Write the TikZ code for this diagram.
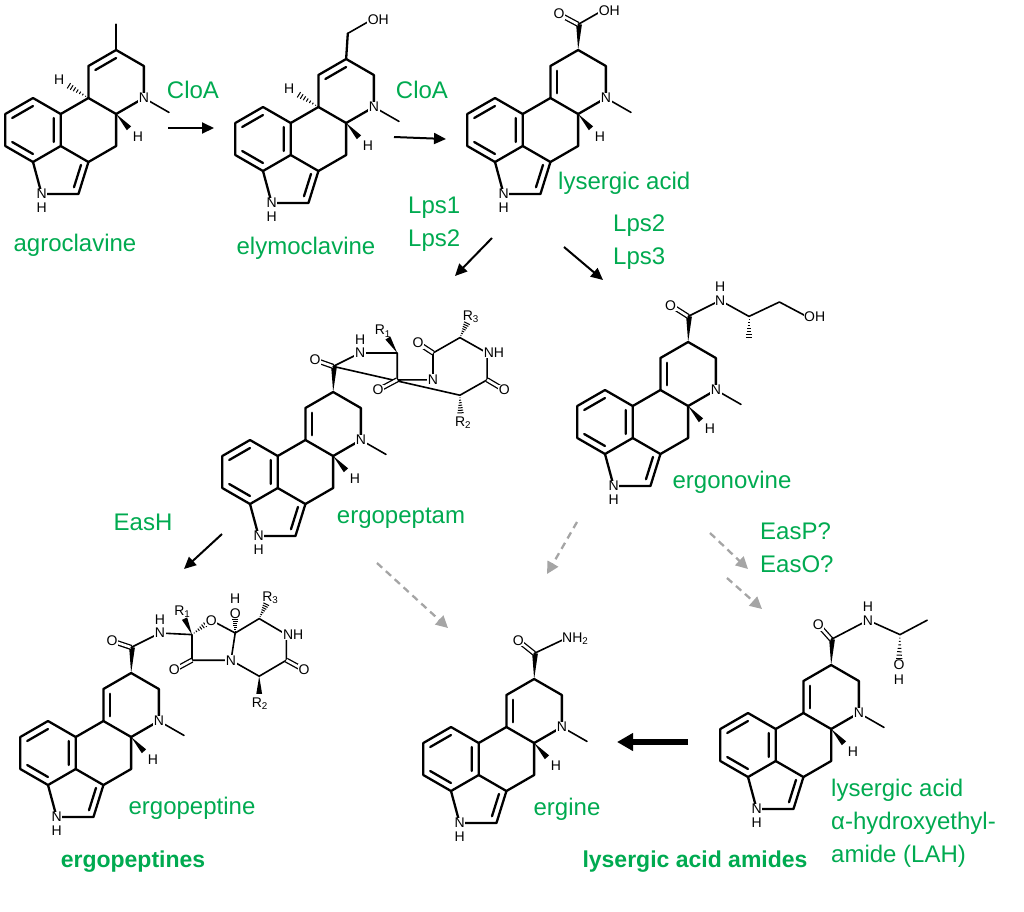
\documentclass[tikz,border=0pt]{standalone}
\usepackage{fontspec}
\setmainfont{Liberation Sans}
\usetikzlibrary{arrows.meta}
\definecolor{lab}{RGB}{0,170,80}
\definecolor{dgray}{RGB}{165,165,165}
\tikzset{
 bond/.style={line width=2.3pt, line join=round, line cap=round},
 thinb/.style={line width=1.6pt, line cap=round, line join=round},
 atom/.style={font=\fontsize{14}{14}\selectfont, fill=white, inner sep=0.6pt},
 atomn/.style={font=\fontsize{14}{14}\selectfont, inner sep=0.6pt},
 lbl/.style={font=\fontsize{24}{33}\selectfont, text=lab, inner sep=0pt},
 blbl/.style={font=\fontsize{23}{28}\selectfont\bfseries, text=lab, inner sep=0pt},
 rx/.style={-{Triangle[length=12pt,width=11pt]}, line width=2pt},
 gx/.style={-{Triangle[length=12pt,width=12pt]}, line width=2.3pt, dgray, dash pattern=on 7pt off 5pt},
 dbl/.style={double=white, double distance=2.6pt, line width=1.3pt},
}
\newcommand{\hashw}[3]{\begin{scope}[shift={(#1)},rotate=#2]\foreach \t in {1,...,7}{\draw[line width=1pt] ({\t*#3/7},{-\t*0.014}) -- ({\t*#3/7},{\t*0.014});}\end{scope}}
\newcommand{\wedgew}[3]{\begin{scope}[shift={(#1)},rotate=#2]\fill (0,0) -- (#3,0.09) -- (#3,-0.09) -- cycle;\end{scope}}
\newcommand{\skel}{%
 \draw[bond] (0,1)--(.866,.5)--(.866,-.5)--(0,-1)--(-.866,-.5)--(-.866,.5)--cycle;
 \draw[bond] (-.65,.375)--(0,.75) (.65,.375)--(.65,-.375) (-.65,-.375)--(0,-.75);
 \draw[bond] (.866,.5)--(1.732,1)--(2.598,.5)--(2.598,-.5)--(1.732,-1)--(.866,-.5);
 \draw[bond] (0,-1)--(0.27,-2)--(1.42,-2)--(1.732,-1) (1.28,-1.79)--(1.50,-1.09);
 \draw[bond] (1.732,1)--(1.732,2)--(2.598,2.5)--(3.464,2)--(3.464,1)--(2.598,.5);
 \draw[thinb] (3.464,1)--(4.25,.55);
 \wedgew{2.598,.5}{-48}{.6}
 \node[atom] at (3.464,1) {N};
 \node[atom] at (0.27,-2) {N};
 \node[atomn] at (0.27,-2.42) {H};
 \node[atomn] at (3.28,-0.22) {H};
}
\newcommand{\dbeightnine}{\draw[bond] (1.948,1.875)--(2.598,2.25);}
\newcommand{\dbnineten}{\draw[bond] (1.93,1.15)--(1.93,1.85);}
\newcommand{\hten}{\hashw{1.732,1}{148}{.72}\node[atomn] at (0.82,1.58){H};}
\newcommand{\amideC}{\wedgew{2.598,2.5}{88}{0.8}}
\begin{document}
\begin{tikzpicture}[x=1pt,y=-1pt]
\useasboundingbox (0,0) rectangle (1024,911);
% agroclavine
\begin{scope}[shift={(33,130)},x=32pt,y=32pt]
 \skel \dbeightnine \hten
 \draw[bond] (2.598,2.5)--(2.598,3.3);
\end{scope}
% elymoclavine
\begin{scope}[shift={(263,139)},x=32pt,y=32pt]
 \skel \dbeightnine \hten
 \draw[bond] (2.598,2.5)--(2.65,3.3);
 \draw[thinb] (2.65,3.3)--(3.35,3.7);
 \node[atom,anchor=west] at (3.25,3.72) {OH};
\end{scope}
% lysergic acid
\begin{scope}[shift={(495,130)},x=32pt,y=32pt]
 \skel \dbnineten \amideC
 \draw[dbl] (2.6,3.3)--(2.0,3.62); \node[atom] at (2.0,3.62) {O};
 \draw[thinb] (2.6,3.3)--(3.3,3.7);
 \node[atom,anchor=west] at (3.22,3.72) {OH};
\end{scope}
% ergonovine
\begin{scope}[shift={(605,422)},x=32pt,y=32pt]
 \skel \dbnineten \amideC
 \draw[dbl] (2.6,3.3)--(2.05,3.65); \node[atom] at (2.05,3.65) {O};
 \draw[thinb] (2.6,3.3)--(3.6,3.8)--(4.5,3.3)--(5.45,3.75)--(6.3,3.3);
 \node[atom] at (3.6,3.8) {N}; \node[atomn] at (3.6,4.22) {H};
 \hashw{4.5,3.3}{-90}{.65}
 \node[atom,anchor=west] at (6.2,3.3) {OH};
\end{scope}
% ergine
\begin{scope}[shift={(451,759)},x=32pt,y=32pt]
 \skel \dbnineten \amideC
 \draw[dbl] (2.6,3.3)--(2.1,3.7); \node[atom] at (2.1,3.7) {O};
 \draw[thinb] (2.6,3.3)--(3.55,3.75);
 \node[atom,anchor=west] at (3.45,3.75) {NH\textsubscript{2}};
\end{scope}
% LAH
\begin{scope}[shift={(748,745)},x=32pt,y=32pt]
 \skel \dbnineten \amideC
 \draw[dbl] (2.6,3.3)--(2.2,3.75); \node[atom] at (2.2,3.75) {O};
 \draw[thinb] (2.6,3.3)--(3.75,3.9)--(4.75,3.45)--(5.6,3.9);
 \node[atom] at (3.75,3.9) {N}; \node[atomn] at (3.75,4.32) {H};
 \hashw{4.75,3.45}{-92}{.75}
 \node[atom] at (4.72,2.5) {O}; \node[atomn] at (4.72,2.05) {H};
\end{scope}
% ergopeptam
\begin{scope}[shift={(250,472)},x=32pt,y=32pt]
 \skel \dbnineten \amideC
 \draw[dbl] (2.6,3.3)--(2.03,3.5); \node[atom] at (2.03,3.5) {O};
 \draw[thinb] (2.6,3.3)--(3.44,3.72)--(4.6,3.72)--(4.6,2.88)--(5.72,2.88)--(5.72,3.72)--(6.56,4.2)--(7.41,3.72)--(7.41,2.88)--(6.56,2.4)--cycle;
 \draw[dbl] (4.6,2.88)--(4.0,2.56); \node[atom] at (4.0,2.56) {O};
 \draw[dbl] (5.72,3.72)--(5.25,4.03); \node[atom] at (5.25,4.03) {O};
 \draw[dbl] (7.41,2.88)--(7.95,2.56); \node[atom] at (7.95,2.56) {O};
 \node[atom] at (3.44,3.72) {N}; \node[atomn] at (3.44,4.13) {H};
 \node[atom] at (5.72,2.88) {N};
 \node[atom,anchor=west] at (7.28,3.72) {NH};
 \wedgew{4.6,3.72}{122}{.55}
 \node[atomn] at (4.15,4.4) {R\textsubscript{1}};
 \hashw{6.56,4.2}{64}{.5}
 \node[atomn] at (6.9,4.85) {R\textsubscript{3}};
 \hashw{6.56,2.4}{-88}{.55}
 \node[atomn] at (6.66,1.55) {R\textsubscript{2}};
\end{scope}
% ergopeptine
\begin{scope}[shift={(48,753)},x=32pt,y=32pt]
 \skel \dbnineten \amideC
 \draw[dbl] (2.6,3.3)--(2.0,3.5); \node[atom] at (2.0,3.5) {O};
 \draw[thinb] (2.6,3.3)--(3.5,3.75)--(4.5,3.7)--(4.5,2.9)--(5.72,2.9)--(5.85,3.75)--(5.1,4.15);
 \draw[thinb] (5.85,3.75)--(6.6,4.2)--(7.45,3.7)--(7.45,2.9)--(6.6,2.4)--(5.72,2.9);
 \hashw{4.5,3.7}{37}{.6}
 \draw[dbl] (4.5,2.9)--(3.95,2.6); \node[atom] at (3.95,2.6) {O};
 \draw[dbl] (7.45,2.9)--(8.0,2.6); \node[atom] at (8.0,2.6) {O};
 \node[atom] at (3.5,3.75) {N}; \node[atomn] at (3.5,4.16) {H};
 \node[atom] at (5.1,4.15) {O};
 \hashw{5.85,3.75}{90}{.42}
 \node[atom] at (5.85,4.35) {O}; \node[atomn] at (5.85,4.82) {H};
 \node[atom] at (5.72,2.9) {N};
 \node[atom,anchor=west] at (7.32,3.7) {NH};
 \wedgew{4.5,3.7}{115}{.55}
 \node[atomn] at (4.2,4.42) {R\textsubscript{1}};
 \hashw{6.6,4.2}{64}{.5}
 \node[atomn] at (6.95,4.85) {R\textsubscript{3}};
 \wedgew{6.6,2.4}{-90}{.55}
 \node[atomn] at (6.62,1.55) {R\textsubscript{2}};
\end{scope}
% labels
\node[lbl] (lagro) at (75,245) {agroclavine};
\node[lbl] (lcloa1) at (193,90) {CloA};
\node[lbl] (lely) at (306,248) {elymoclavine};
\node[lbl] (lcloa2) at (422,90) {CloA};
\node[lbl,anchor=west] (llys) at (558,183) {lysergic acid};
\node[lbl,anchor=west,align=left] (llps12) at (408,224) {Lps1\\Lps2};
\node[lbl,anchor=west,align=left] (llps23) at (613,242) {Lps2\\Lps3};
\node[lbl] (lpeptam) at (401,518) {ergopeptam};
\node[lbl] (lnov) at (732,482) {ergonovine};
\node[lbl] (leash) at (143,522) {EasH};
\node[lbl,anchor=west,align=left] (leasp) at (760,548) {EasP?\\EasO?};
\node[lbl] (lpeptine) at (192,808) {ergopeptine};
\node[lbl] (lergine) at (567,809) {ergine};
\node[lbl,anchor=west,align=left] (llah) at (831,823) {lysergic acid\\α-hydroxyethyl-\\amide (LAH)};
\node[blbl] (gpep) at (133,862) {ergopeptines};
\node[blbl] (glsa) at (695,862) {lysergic acid amides};
% arrows
\coordinate (a1s) at (168,128); \coordinate (a1e) at (214,128);
\coordinate (a2s) at (394,137); \coordinate (a2e) at (446,139);
\coordinate (a3s) at (492,238); \coordinate (a3e) at (455,276);
\coordinate (a4s) at (564,247); \coordinate (a4e) at (603,280);
\coordinate (a5s) at (222,534); \coordinate (a5e) at (184,569);
\coordinate (a6s) at (688,742); \coordinate (a6e) at (617,742);
\draw[rx] (a1s)--(a1e);
\draw[rx] (a2s)--(a2e);
\draw[rx] (a3s)--(a3e);
\draw[rx] (a4s)--(a4e);
\draw[rx] (a5s)--(a5e);
\draw[-{Triangle[length=16pt,width=17pt]}, line width=6pt] (a6s)--(a6e);
\coordinate (d1s) at (377,563); \coordinate (d1e) at (448,628);
\coordinate (d2s) at (577,522); \coordinate (d2e) at (547,574);
\coordinate (d3s) at (710,533); \coordinate (d3e) at (748,569);
\coordinate (d4s) at (727,578); \coordinate (d4e) at (762,609);
\draw[gx] (d1s)--(d1e);
\draw[gx] (d2s)--(d2e);
\draw[gx] (d3s)--(d3e);
\draw[gx] (d4s)--(d4e);
\end{tikzpicture}
\end{document}
